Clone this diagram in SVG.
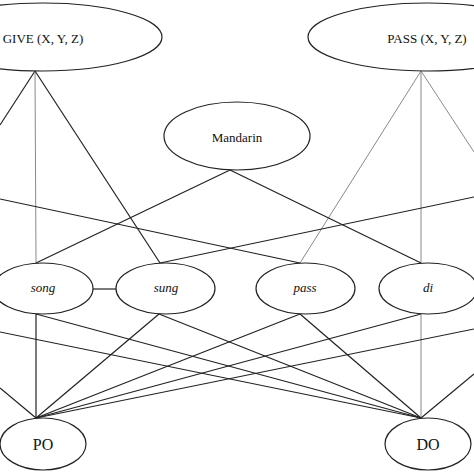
<svg xmlns="http://www.w3.org/2000/svg" width="474" height="474" viewBox="0 0 474 474">
<style>
.n ellipse{fill:#fff;stroke:#222;stroke-width:1.2}
.t{font-family:"Liberation Serif","Times New Roman",serif;fill:#111;text-anchor:middle}
.i{font-style:italic}
.e line{stroke:#222;stroke-width:1.2}
.e line.g{stroke:#8a8a8a;stroke-width:1}
</style>
<rect width="474" height="474" fill="#fff"/>
<g class="e" id="connectors">
<line x1="35" y1="71" x2="0" y2="125"/>
<line class="g" x1="35" y1="71" x2="36" y2="263"/>
<line x1="35" y1="71" x2="160" y2="263"/>
<line class="g" x1="421" y1="71" x2="300" y2="263"/>
<line class="g" x1="421" y1="71" x2="421" y2="263"/>
<line class="g" x1="421" y1="71" x2="474" y2="152"/>
<line x1="230" y1="170" x2="36" y2="263"/>
<line x1="230" y1="170" x2="421" y2="263"/>
<line x1="0" y1="199" x2="300" y2="263"/>
<line x1="160" y1="263" x2="474" y2="197"/>
<line x1="93" y1="289" x2="116" y2="289"/>
<line x1="36" y1="314" x2="36" y2="418"/>
<line x1="36" y1="314" x2="421" y2="418"/>
<line x1="159" y1="314" x2="36" y2="418"/>
<line x1="159" y1="314" x2="421" y2="418"/>
<line x1="300" y1="314" x2="36" y2="418"/>
<line x1="300" y1="314" x2="421" y2="418"/>
<line x1="421" y1="314" x2="36" y2="418"/>
<line class="g" x1="421" y1="314" x2="421" y2="418"/>
<line x1="0" y1="332" x2="421" y2="418"/>
<line x1="0" y1="388" x2="36" y2="418"/>
<line x1="36" y1="418" x2="474" y2="329"/>
<line x1="421" y1="418" x2="474" y2="374"/>
</g>
<g class="n" id="give"><ellipse cx="43" cy="37" rx="119" ry="34"/><text class="t" x="43" y="43" font-size="13">GIVE (X, Y, Z)</text></g>
<g class="n" id="pass-pred"><ellipse cx="427" cy="37" rx="119" ry="34"/><text class="t" x="427" y="43" font-size="13">PASS (X, Y, Z)</text></g>
<g class="n" id="mandarin"><ellipse cx="237" cy="136" rx="73" ry="34"/><text class="t" x="237" y="142" font-size="13">Mandarin</text></g>
<g class="n" id="song"><ellipse cx="43" cy="288.5" rx="50" ry="25.5"/><text class="t i" x="43" y="292" font-size="13">song</text></g>
<g class="n" id="sung"><ellipse cx="165.5" cy="288.5" rx="49.5" ry="25.5"/><text class="t i" x="166" y="292" font-size="13">sung</text></g>
<g class="n" id="pass"><ellipse cx="305.5" cy="288.5" rx="49.5" ry="25.5"/><text class="t i" x="305" y="292" font-size="13">pass</text></g>
<g class="n" id="di"><ellipse cx="428" cy="288.5" rx="49" ry="25.5"/><text class="t i" x="428" y="292" font-size="13">di</text></g>
<g class="n" id="po"><ellipse cx="43" cy="444" rx="43" ry="26"/><text class="t" x="43" y="450" font-size="16">PO</text></g>
<g class="n" id="do"><ellipse cx="428" cy="444" rx="43" ry="26"/><text class="t" x="428" y="450" font-size="16">DO</text></g>
</svg>
